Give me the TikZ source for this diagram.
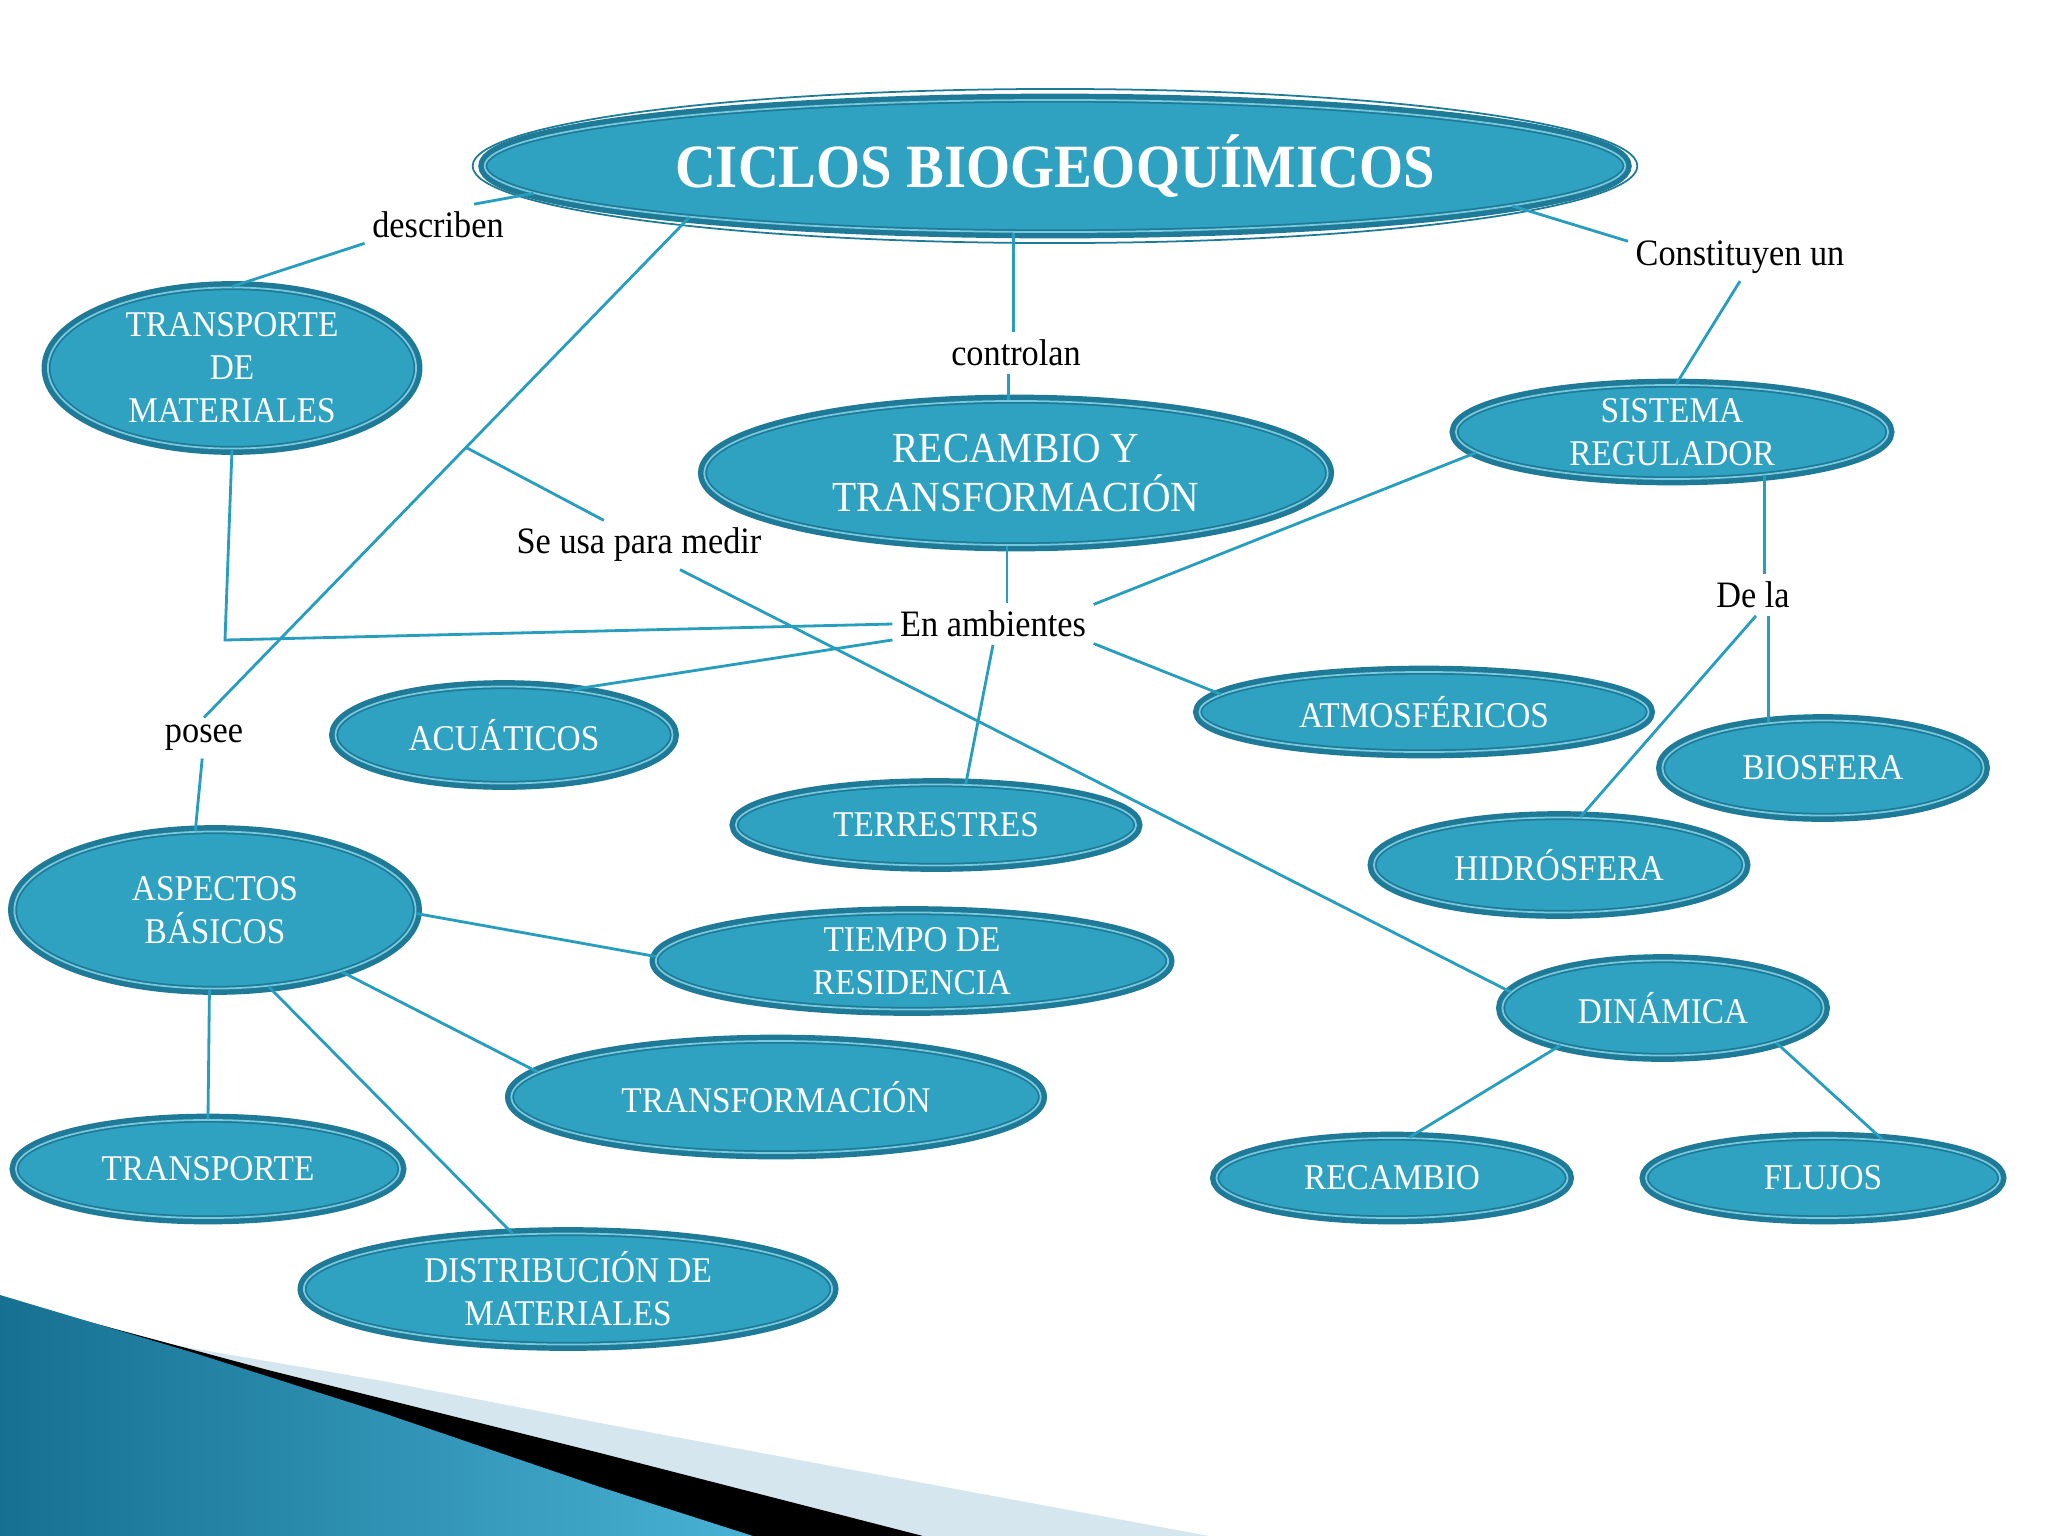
\documentclass[tikz,border=0pt]{standalone}
\usepackage{fontspec}
\setmainfont{Liberation Serif}[FakeStretch=0.92]
\usepackage{tikz}
\usetikzlibrary{shapes.geometric, positioning, calc}
\definecolor{cyfill}{RGB}{46,162,192}
\definecolor{cyring}{RGB}{30,122,150}
\definecolor{cylight}{RGB}{120,200,222}
\definecolor{cyline}{RGB}{40,158,190}
\definecolor{bandlight}{RGB}{214,230,239}
\definecolor{tealdark}{RGB}{22,112,146}
\definecolor{teallight}{RGB}{72,178,212}
\tikzset{
  concept/.style={ellipse, preaction={draw=cyring, line width=3.6pt},
    draw=cyring, double=cylight, double distance=0.5pt,
    line width=0.5pt, fill=cyfill, text=white, align=center,
    inner xsep=0pt, inner ysep=-2pt, font=\fontsize{10.3}{12.2}\selectfont},
  linkword/.style={font=\fontsize{10.6}{12.5}\selectfont, inner sep=2pt, text=black},
  link/.style={draw=cyline, line width=0.8pt}
}

\begin{document}
\begin{tikzpicture}[x=0.01cm, y=-0.01cm]
  \useasboundingbox (0,0) rectangle (2048,1536);
  \fill[white] (0,0) rectangle (2048,1536);
  % corner bands
  \fill[bandlight] (0,1300) -- (150,1341) -- (383,1381) -- (600,1423) -- (1209,1536) -- (0,1536) -- cycle;
  \fill[black] (0,1298) -- (268,1370) -- (600,1453) -- (923,1536) -- (0,1536) -- cycle;
  \shade[left color=tealdark, right color=teallight]
    (0,1295) -- (191,1352) -- (383,1413) -- (600,1487) -- (753,1536) -- (0,1536) -- cycle;

  % concepts
  \node[concept, minimum width=11.4cm, minimum height=1.32cm,
        font=\fontsize{17.5}{20}\selectfont\bfseries] (ciclos) at (1055,166) {CICLOS BIOGEOQUÍMICOS};
  \draw[cyring, line width=0.5pt] (ciclos.center) ellipse [x radius=5.82cm, y radius=0.77cm];
  \node[concept, minimum width=3.68cm, minimum height=1.61cm] (transmat) at (232,368) {TRANSPORTE\\DE\\MATERIALES};
  \node[concept, minimum width=6.23cm, minimum height=1.44cm,
        font=\fontsize{12.2}{13.7}\selectfont] (recambioy) at (1016,473) {RECAMBIO Y\\TRANSFORMACIÓN};
  \node[concept, minimum width=4.32cm, minimum height=0.94cm] (sistema) at (1672,432) {SISTEMA\\REGULADOR};
  \node[concept, minimum width=3.37cm, minimum height=0.97cm] (acuaticos) at (504,735) {ACUÁTICOS};
  \node[concept, minimum width=4.49cm, minimum height=0.80cm] (atmosfericos) at (1424,712) {ATMOSFÉRICOS};
  \node[concept, minimum width=3.21cm, minimum height=0.95cm] (biosfera) at (1823,768) {BIOSFERA};
  \node[concept, minimum width=4.00cm, minimum height=0.81cm] (terrestres) at (936,825) {TERRESTRES};
  \node[concept, minimum width=3.70cm, minimum height=0.95cm] (hidrosfera) at (1559,865) {HIDRÓSFERA};
  \node[concept, minimum width=4.01cm, minimum height=1.57cm] (aspectos) at (215,910) {ASPECTOS\\BÁSICOS};
  \node[concept, minimum width=5.12cm, minimum height=0.97cm] (tiempo) at (912,961) {TIEMPO DE\\RESIDENCIA};
  \node[concept, minimum width=3.21cm, minimum height=0.95cm] (dinamica) at (1663,1008) {DINÁMICA};
  \node[concept, minimum width=5.29cm, minimum height=1.12cm] (transformacion) at (776,1097) {TRANSFORMACIÓN};
  \node[concept, minimum width=3.84cm, minimum height=0.98cm] (transporte) at (208,1169) {TRANSPORTE};
  \node[concept, minimum width=3.51cm, minimum height=0.80cm] (recambio) at (1392,1178) {RECAMBIO};
  \node[concept, minimum width=3.54cm, minimum height=0.80cm] (flujos) at (1823,1178) {FLUJOS};
  \node[concept, minimum width=5.28cm, minimum height=1.11cm] (distribucion) at (568,1289) {DISTRIBUCIÓN DE\\MATERIALES};

  % linking words
  \node[linkword] (describen) at (438,225) {describen};
  \node[linkword] (controlan) at (1016,353) {controlan};
  \node[linkword] (constituyen) at (1740,257) {Constituyen un};
  \node[linkword] (seusa) at (639,545) {Se usa para medir};
  \node[linkword] (enamb) at (993,624) {En ambientes};
  \node[linkword] (dela) at (1753,595) {De la};
  \node[linkword] (posee) at (204,738) {posee};

  \coordinate (fork) at ($(ciclos.188)!0.46!(posee.north)$);
  \coordinate (elbow) at (225,640);

  % links
  \draw[link] (ciclos.183) -- (describen.30);
  \draw[link] (describen.194) -- (transmat.90);
  \draw[link] (ciclos.188) -- (posee.north);
  \draw[link] (fork) -- (seusa.145);
  \draw[link] (seusa.329) -- (dinamica.174);
  \draw[link] (ciclos.238) -- (ciclos.238 |- controlan.north);
  \draw[link] (recambioy.96) -- (recambioy.96 |- controlan.south);
  \draw[link] (ciclos.355) -- (constituyen.172);
  \draw[link] (constituyen.south) -- (sistema.85);
  \draw[link] (recambioy.263) -- (recambioy.263 |- enamb.north);
  \draw[link] (enamb.west) -- (elbow) -- (transmat.270);
  \draw[link] (enamb.189) -- (acuaticos.34);
  \draw[link] (enamb.south) -- (terrestres.54);
  \draw[link] (enamb.349) -- (atmosfericos.175);
  \draw[link] (enamb.11) -- (sistema.186);
  \draw[link] (sistema.335) -- (sistema.335 |- dela.north);
  \draw[link] (biosfera.140 |- dela.south) -- (biosfera.140);
  \draw[link] (dela.278) -- (hidrosfera.66);
  \draw[link] (posee.265) -- (aspectos.104);
  \draw[link] (aspectos.359) -- (tiempo.179);
  \draw[link] (aspectos.334) -- (transformacion.174);
  \draw[link] (aspectos.266) -- (transporte.90);
  \draw[link] (aspectos.305) -- (distribucion.135);
  \draw[link] (dinamica.200) -- (recambio.67);
  \draw[link] (dinamica.343) -- (flujos.33);
\end{tikzpicture}
\end{document}
